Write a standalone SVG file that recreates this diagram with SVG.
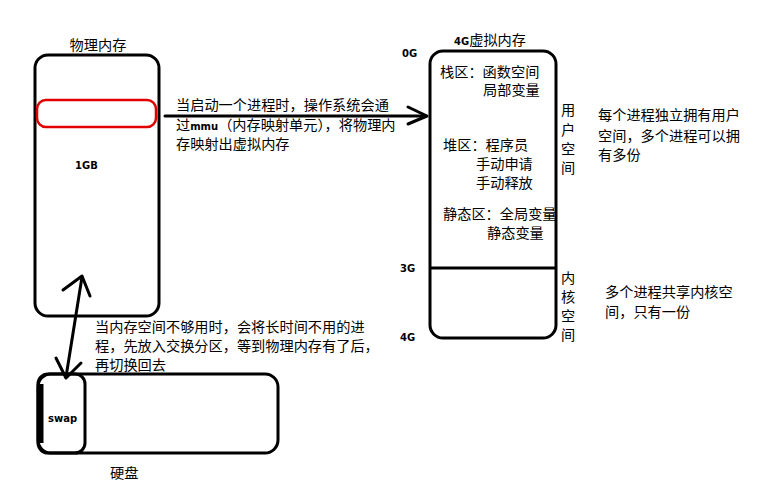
<svg xmlns="http://www.w3.org/2000/svg" width="772" height="494" viewBox="0 0 772 494">
<style>
.box{fill:none;stroke:#000;stroke-width:3}
.t{font-family:"Noto Sans CJK SC","Noto Sans",sans-serif;font-size:14.2px;fill:#000}
.b{font-family:"DejaVu Sans","Liberation Sans",sans-serif;font-weight:bold;font-size:10px;fill:#000}
.ln{fill:none;stroke:#000;stroke-width:3;stroke-linecap:round;stroke-linejoin:round}
</style>
<rect width="772" height="494" fill="#fff"/>
<g id="physical">
<rect class="box" x="35" y="55" width="124" height="261" rx="13"/>
<rect x="37" y="100" width="119" height="27" rx="9" fill="none" stroke="#e00000" stroke-width="2.5"/>
<text class="t" x="98" y="50" text-anchor="middle">物理内存</text>
<text class="b" x="75" y="169" font-size="11">1GB</text>
</g>
<g id="virtual">
<rect class="box" x="430" y="51" width="126" height="287" rx="13"/>
<line x1="430" y1="268" x2="556" y2="268" stroke="#000" stroke-width="3"/>
<text x="490" y="45" text-anchor="middle"><tspan class="b">4G</tspan><tspan class="t">虚拟内存</tspan></text>
<text class="b" x="402" y="57">0G</text>
<text class="b" x="400" y="272">3G</text>
<text class="b" x="400" y="341">4G</text>
<text class="t" x="440" y="77">栈区：函数空间</text>
<text class="t" x="483" y="95">局部变量</text>
<text class="t" x="443" y="150">堆区：程序员</text>
<text class="t" x="476" y="169">手动申请</text>
<text class="t" x="476" y="188">手动释放</text>
<text class="t" x="443" y="219">静态区：全局变量</text>
<text class="t" x="487" y="238">静态变量</text>
<text class="t" x="568" text-anchor="middle"><tspan x="568" y="115">用</tspan><tspan x="568" y="135">户</tspan><tspan x="568" y="154">空</tspan><tspan x="568" y="173">间</tspan></text>
<text class="t" x="568" text-anchor="middle"><tspan x="568" y="283">内</tspan><tspan x="568" y="302">核</tspan><tspan x="568" y="321">空</tspan><tspan x="568" y="340">间</tspan></text>
</g>
<g id="disk">
<rect class="box" x="38" y="374" width="240" height="79" rx="13"/>
<rect class="box" x="38" y="374" width="47" height="79" rx="10"/>
<path d="M41 384 L41 443" stroke="#000" stroke-width="5" fill="none"/>
<text class="b" x="48" y="422">swap</text>
<text class="t" x="110" y="478">硬盘</text>
</g>
<g id="notes">
<text class="t" x="176" y="110">当启动一个进程时，操作系统会通</text>
<text class="t" x="176" y="130">过<tspan class="b">mmu</tspan>（内存映射单元），将物理内</text>
<text class="t" x="176" y="149">存映射出虚拟内存</text>
<text class="t" x="598" y="120">每个进程独立拥有用户</text>
<text class="t" x="598" y="141">空间，多个进程可以拥</text>
<text class="t" x="598" y="160">有多份</text>
<text class="t" x="605" y="297">多个进程共享内核空</text>
<text class="t" x="605" y="317">间，只有一份</text>
<text class="t" x="95" y="332">当内存空间不够用时，会将长时间不用的进</text>
<text class="t" x="95" y="351">程，先放入交换分区，等到物理内存有了后，</text>
<text class="t" x="95" y="370">再切换回去</text>
</g>
<g id="connectors">
<line class="ln" x1="165" y1="116" x2="426" y2="116"/>
<path class="ln" d="M408 107 L427 116 L408 124"/>
<line class="ln" x1="82" y1="277" x2="66" y2="377"/>
<path class="ln" d="M63 290 L82 276 L90 296"/>
<path class="ln" d="M56 358 L66 378 L81 363"/>
</g>
</svg>
